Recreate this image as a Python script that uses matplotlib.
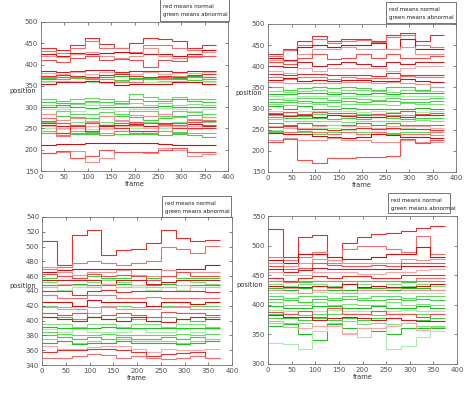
import matplotlib
matplotlib.use("Agg")
from matplotlib import pyplot as plt
from matplotlib.patches import Rectangle
import numpy as np

# frame edges of the 12 steps
edges = [0, 31.25, 62.5, 93.75, 125, 156.25, 187.5, 218.75, 250, 281.25, 312.5, 343.75, 375]

# ---- panel 1 (top left) ----
p1_red = [
    [440, 435, 445, 462, 448, 440, 450, 462, 460, 455, 440, 445],
    [432, 428, 440, 455, 440, 438, 430, 445, 445, 440, 435, 435],
    [425, 420, 428, 425, 428, 430, 428, 425, 425, 420, 425, 435],
    [420, 418, 425, 430, 420, 415, 420, 440, 420, 415, 418, 430],
    [410, 405, 415, 420, 410, 412, 410, 395, 410, 408, 420, 420],
    [385, 383, 385, 388, 388, 383, 385, 385, 385, 383, 385, 385],
    [380, 378, 382, 378, 382, 380, 378, 382, 378, 380, 380, 382],
    [372, 375, 372, 370, 375, 378, 372, 370, 374, 370, 376, 378],
    [370, 365, 370, 368, 360, 358, 360, 365, 368, 372, 370, 365],
    [355, 360, 358, 362, 360, 352, 355, 355, 355, 360, 358, 355],
    [283, 270, 275, 265, 280, 270, 282, 280, 285, 278, 272, 278],
    [268, 262, 258, 262, 258, 255, 265, 262, 260, 262, 265, 268],
    [258, 255, 252, 255, 255, 258, 260, 255, 255, 255, 260, 255],
    [255, 250, 250, 255, 250, 255, 255, 250, 255, 255, 255, 252],
    [262, 240, 255, 245, 258, 250, 245, 245, 262, 250, 250, 250],
    [275, 232, 240, 240, 235, 245, 240, 240, 258, 240, 270, 270],
    [212, 213, 213, 215, 215, 215, 216, 215, 213, 212, 212, 212],
    [192, 195, 196, 170, 180, 195, 195, 193, 205, 200, 185, 190],
    [193, 197, 180, 185, 200, 195, 195, 195, 200, 203, 195, 195],
]
p1_green = [
    [368, 366, 368, 365, 366, 364, 366, 368, 365, 366, 364, 366],
    [362, 362, 360, 362, 360, 362, 360, 360, 362, 362, 360, 362],
    [365, 370, 372, 368, 370, 372, 368, 366, 370, 368, 372, 370],
    [358, 358, 362, 358, 356, 360, 360, 358, 360, 358, 360, 358],
    [318, 315, 320, 322, 318, 315, 330, 325, 320, 325, 318, 320],
    [312, 310, 310, 315, 312, 310, 320, 315, 315, 318, 315, 312],
    [305, 300, 308, 312, 305, 308, 310, 305, 310, 305, 308, 305],
    [300, 305, 300, 298, 300, 300, 300, 300, 302, 300, 300, 300],
    [295, 295, 290, 305, 295, 290, 295, 295, 298, 295, 292, 295],
    [285, 290, 285, 285, 288, 285, 290, 290, 280, 290, 288, 285],
    [275, 280, 278, 275, 280, 280, 278, 270, 275, 280, 282, 278],
    [265, 262, 265, 268, 265, 268, 262, 265, 262, 265, 265, 265],
    [258, 255, 258, 262, 258, 262, 258, 255, 262, 258, 255, 258],
    [250, 248, 250, 248, 248, 250, 250, 252, 250, 250, 248, 250],
    [245, 240, 245, 242, 240, 245, 245, 240, 245, 242, 240, 240],
    [240, 235, 238, 238, 235, 238, 238, 238, 235, 238, 235, 230],
]

# ---- panel 2 (top right) ----
p2_red = [
    [430, 440, 460, 472, 460, 465, 465, 460, 475, 478, 460, 475],
    [425, 438, 450, 465, 455, 460, 462, 458, 470, 475, 450, 445],
    [420, 415, 445, 450, 445, 450, 450, 455, 440, 465, 440, 440],
    [415, 412, 430, 440, 440, 445, 440, 440, 440, 445, 430, 428],
    [410, 405, 420, 430, 418, 420, 430, 420, 430, 420, 420, 425],
    [400, 398, 410, 400, 405, 410, 405, 400, 410, 405, 410, 410],
    [390, 385, 395, 390, 395, 395, 395, 395, 390, 395, 400, 400],
    [382, 380, 382, 382, 380, 380, 380, 378, 385, 380, 380, 380],
    [375, 370, 375, 375, 370, 375, 372, 372, 372, 378, 375, 375],
    [368, 372, 365, 368, 365, 368, 368, 365, 365, 370, 365, 362],
    [362, 360, 360, 360, 360, 362, 362, 360, 362, 360, 358, 352],
    [290, 292, 288, 292, 290, 290, 285, 288, 290, 295, 288, 290],
    [286, 282, 285, 280, 285, 282, 280, 280, 282, 280, 285, 285],
    [258, 255, 255, 258, 260, 258, 258, 255, 258, 258, 258, 255],
    [256, 258, 252, 252, 250, 252, 255, 252, 255, 252, 252, 250],
    [248, 245, 248, 245, 240, 245, 240, 245, 242, 240, 240, 245],
    [242, 240, 240, 235, 232, 230, 232, 240, 238, 232, 232, 230],
    [225, 230, 225, 225, 230, 225, 225, 222, 220, 225, 222, 222],
    [220, 228, 178, 172, 182, 182, 185, 185, 188, 228, 218, 225],
]
p2_green = [
    [350, 345, 348, 350, 348, 350, 348, 345, 350, 350, 345, 350],
    [342, 340, 342, 345, 340, 345, 345, 342, 340, 345, 342, 342],
    [335, 335, 338, 338, 335, 338, 335, 338, 335, 336, 338, 338],
    [330, 325, 330, 330, 330, 330, 330, 330, 330, 330, 330, 330],
    [322, 320, 325, 325, 320, 325, 322, 320, 325, 322, 322, 325],
    [315, 315, 318, 315, 315, 318, 315, 318, 318, 315, 315, 318],
    [310, 308, 312, 310, 305, 310, 310, 310, 308, 312, 310, 310],
    [305, 300, 305, 300, 300, 302, 300, 300, 300, 300, 302, 300],
    [295, 292, 295, 295, 295, 295, 292, 295, 292, 295, 292, 295],
    [285, 285, 282, 288, 285, 285, 288, 285, 285, 285, 285, 285],
    [280, 278, 278, 278, 275, 278, 275, 280, 278, 275, 278, 278],
    [275, 270, 270, 270, 270, 268, 270, 270, 270, 270, 272, 270],
    [265, 262, 265, 262, 262, 262, 265, 262, 265, 262, 262, 262],
    [250, 255, 252, 255, 255, 250, 255, 255, 252, 255, 252, 250],
    [245, 245, 245, 240, 245, 245, 245, 245, 240, 245, 245, 238],
]

# ---- panel 3 (bottom left) ----
p3_red = [
    [508, 475, 515, 523, 488, 495, 497, 505, 522, 512, 508, 509],
    [470, 472, 478, 481, 478, 475, 478, 480, 500, 497, 492, 501],
    [465, 468, 470, 470, 470, 470, 470, 470, 468, 470, 470, 475],
    [472, 465, 462, 465, 465, 468, 462, 460, 468, 465, 465, 465],
    [463, 460, 458, 463, 460, 462, 460, 455, 460, 465, 460, 460],
    [455, 455, 455, 455, 450, 455, 455, 450, 452, 455, 455, 455],
    [445, 450, 448, 445, 450, 445, 448, 445, 445, 448, 440, 445],
    [440, 440, 435, 440, 442, 438, 440, 440, 440, 440, 440, 438],
    [435, 430, 430, 435, 435, 430, 430, 432, 430, 430, 430, 430],
    [425, 425, 420, 428, 425, 425, 425, 420, 425, 425, 422, 425],
    [418, 415, 415, 410, 420, 415, 415, 415, 418, 420, 415, 415],
    [410, 408, 410, 405, 408, 410, 408, 405, 412, 410, 410, 408],
    [405, 402, 400, 405, 402, 400, 405, 400, 398, 402, 405, 402],
    [365, 362, 362, 364, 365, 365, 362, 358, 362, 360, 360, 362],
    [358, 360, 360, 362, 362, 360, 358, 352, 355, 356, 358, 350],
    [350, 350, 352, 355, 353, 350, 352, 350, 348, 350, 352, 350],
]
p3_green = [
    [458, 460, 458, 460, 458, 458, 460, 458, 460, 458, 458, 458],
    [452, 455, 455, 452, 455, 452, 455, 455, 452, 455, 452, 450],
    [448, 448, 450, 448, 448, 450, 448, 448, 450, 448, 448, 448],
    [445, 442, 445, 445, 442, 445, 445, 442, 445, 442, 445, 445],
    [420, 418, 420, 418, 418, 420, 418, 420, 420, 418, 420, 420],
    [405, 405, 402, 405, 402, 405, 402, 400, 405, 402, 400, 405],
    [395, 395, 392, 395, 395, 392, 395, 395, 392, 395, 395, 392],
    [392, 390, 390, 390, 392, 390, 390, 390, 390, 390, 390, 390],
    [388, 385, 388, 385, 385, 385, 388, 385, 385, 388, 385, 388],
    [385, 382, 380, 380, 382, 380, 380, 380, 380, 382, 380, 382],
    [380, 378, 375, 378, 375, 378, 375, 375, 378, 375, 378, 375],
    [375, 372, 370, 372, 370, 375, 372, 372, 372, 370, 372, 375],
    [370, 372, 368, 370, 370, 372, 370, 370, 370, 368, 370, 372],
]

# ---- panel 4 (bottom right) ----
p4_red = [
    [528, 480, 515, 518, 475, 505, 515, 520, 522, 525, 530, 533],
    [480, 475, 480, 490, 470, 495, 500, 500, 495, 490, 517, 485],
    [475, 470, 485, 485, 480, 478, 478, 480, 485, 485, 497, 480],
    [470, 465, 470, 478, 475, 470, 470, 470, 470, 478, 475, 478],
    [465, 460, 462, 470, 468, 465, 465, 468, 465, 470, 470, 470],
    [460, 455, 458, 462, 460, 460, 460, 460, 460, 465, 465, 465],
    [455, 450, 450, 455, 455, 455, 452, 452, 455, 455, 458, 460],
    [445, 440, 445, 448, 445, 448, 448, 445, 445, 450, 450, 450],
    [440, 438, 440, 440, 440, 440, 440, 440, 440, 440, 445, 445],
    [432, 430, 430, 432, 430, 435, 430, 432, 430, 430, 432, 435],
    [425, 428, 420, 425, 428, 420, 425, 425, 428, 425, 425, 425],
    [388, 385, 390, 380, 395, 385, 385, 390, 385, 385, 380, 385],
    [382, 380, 380, 375, 378, 380, 378, 375, 378, 375, 372, 372],
    [370, 362, 360, 365, 365, 350, 360, 360, 365, 370, 358, 362],
]
p4_green = [
    [445, 440, 438, 440, 440, 435, 440, 440, 440, 438, 440, 440],
    [435, 432, 435, 435, 432, 435, 435, 432, 435, 432, 435, 432],
    [428, 425, 428, 425, 425, 425, 428, 428, 425, 428, 428, 425],
    [420, 420, 420, 422, 420, 420, 420, 420, 420, 420, 420, 420],
    [415, 412, 415, 415, 412, 415, 412, 415, 415, 412, 415, 415],
    [410, 408, 405, 410, 408, 410, 408, 408, 410, 408, 410, 408],
    [405, 400, 400, 405, 400, 402, 400, 400, 405, 400, 402, 400],
    [398, 395, 395, 398, 398, 395, 395, 398, 395, 395, 398, 395],
    [392, 390, 390, 390, 392, 390, 390, 390, 390, 392, 390, 390],
    [385, 385, 382, 385, 385, 385, 385, 382, 385, 385, 385, 385],
    [378, 378, 375, 378, 375, 378, 375, 378, 378, 375, 375, 378],
    [372, 370, 370, 365, 370, 372, 368, 370, 368, 370, 365, 365],
    [365, 368, 350, 340, 368, 360, 360, 355, 350, 360, 360, 360],
    [335, 333, 325, 355, 365, 352, 345, 360, 325, 330, 345, 355],
]

ylims = [(150, 500), (150, 500), (340, 540), (300, 550)]
ysteps = [50, 50, 20, 50]

reds = ["#e03030", "#f07070", "#d01010", "#f09090", "#e85050", "#c82020", "#f4a8a8"]
greens = ["#40d040", "#80e080", "#20c020", "#a8eca8", "#60d860"]

# axes rectangles and legend boxes in pixels (x0, y0 from top, x1, y1)
axes_px = [(41, 22, 228, 171), (268, 24, 456, 172), (42, 217, 232, 365), (268, 216, 457, 364)]
leg_px = [(160, -1, 229, 21), (386, 2, 456, 23), (162, 196, 231, 217), (388, 193, 450, 213)]
ylab_x = [23, 249, 23, 250]

W, H = 474, 394
fig = plt.figure(figsize=(W / 100, H / 100), dpi=100)

panels = [(p1_red, p1_green), (p2_red, p2_green), (p3_red, p3_green), (p4_red, p4_green)]
for k, (red_lines, green_lines) in enumerate(panels):
    x0, y0, x1, y1 = axes_px[k]
    ax = fig.add_axes([x0 / W, 1 - y1 / H, (x1 - x0) / W, (y1 - y0) / H])
    for i, vals in enumerate(green_lines):
        ax.stairs(vals, edges, baseline=None, color=greens[i % len(greens)], lw=0.8)
    for i, vals in enumerate(red_lines):
        ax.stairs(vals, edges, baseline=None, color=reds[i % len(reds)], lw=0.8)
    ax.set_xlim(0, 400)
    ax.set_ylim(*ylims[k])
    ax.set_xticks(np.arange(0, 401, 50))
    ax.set_yticks(np.arange(ylims[k][0], ylims[k][1] + 1, ysteps[k]))
    ax.tick_params(direction="in", length=2, width=0.5, labelsize=5, colors="#505050",
                   top=True, right=True, pad=2)
    for s in ax.spines.values():
        s.set_linewidth(0.6)
        s.set_color("#707070")
    ax.set_xlabel("frame", fontsize=4.8, labelpad=1, color="#303030")
    fig.text(ylab_x[k] / W, 1 - ((y0 + y1) / 2 - 5) / H, "position", fontsize=4.8,
             ha="center", va="center", color="#303030")

    lx0, ly0, lx1, ly1 = leg_px[k]
    fig.patches.append(Rectangle((lx0 / W, 1 - ly1 / H), (lx1 - lx0) / W, (ly1 - ly0) / H,
                                 transform=fig.transFigure, facecolor="white",
                                 edgecolor="#606060", lw=0.6, zorder=5))
    fig.text((lx0 + 3) / W, 1 - (ly0 + 7.5) / H, "red means normal", fontsize=4.0,
             va="center", color="#202020", zorder=6)
    fig.text((lx0 + 3) / W, 1 - (ly0 + 15.5) / H, "green means abnormal", fontsize=4.0,
             va="center", color="#202020", zorder=6)

fig.savefig("out.png", dpi=100)
